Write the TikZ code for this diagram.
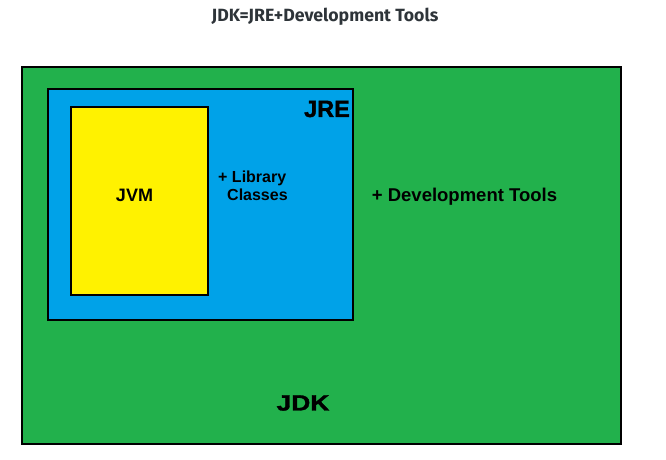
\documentclass[tikz,border=0pt]{standalone}
\usepackage{fontspec}
\setmainfont{Liberation Sans}
\newfontfamily\titlefont{Fira Sans}
\newfontfamily\heavyfont[FakeBold=1.5]{Liberation Sans Bold}
\usetikzlibrary{positioning}

\definecolor{jdkgreen}{HTML}{22B14C}
\definecolor{jreblue}{HTML}{00A2E8}
\definecolor{jvmyellow}{HTML}{FFF200}
\definecolor{titlegray}{HTML}{2E3439}

\tikzset{
    layer/.style={draw=black, line width=2pt, rectangle, inner sep=0pt},
    tag/.style={font=\bfseries, text=black, inner sep=0pt}
}

\begin{document}
\begin{tikzpicture}[x=1pt, y=-1pt]
    \useasboundingbox (0,0) rectangle (666,460);

    % Title
    \node [font=\titlefont\bfseries\fontsize{17.7}{20}\selectfont, text=titlegray] (title) at (325,17) {JDK=JRE+Development Tools};

    % Boxes {jdk, jre, jvm}
    \node [layer, fill=jdkgreen,  minimum width=599pt, minimum height=377pt] (jdk) at (321.5,255.5) {};
    \node [layer, fill=jreblue,   minimum width=305pt, minimum height=231pt] (jre) at (200.5,204.5) {};
    \node [layer, fill=jvmyellow, minimum width=137pt, minimum height=188pt] (jvm) at (139.5,201)   {};

    % Labels
    \node [tag, font=\heavyfont\fontsize{23.5}{26}\selectfont] (jrelabel) at (327,109) {JRE};
    \node [tag, font=\bfseries\fontsize{18}{20}\selectfont]   (jvmlabel) at (134.5,195) {JVM};
    \node [tag, font=\bfseries\fontsize{16}{18}\selectfont, align=left, anchor=west] (libs) at (218,186) {+ Library\\\hspace*{9pt}Classes};
    \node [tag, font=\bfseries\fontsize{18.5}{22}\selectfont] (devtools) at (464.5,197) {+ Development Tools};
    \node [tag, font=\heavyfont\fontsize{22}{26}\selectfont, xscale=1.2] (jdklabel) at (303,403) {JDK};
\end{tikzpicture}
\end{document}
